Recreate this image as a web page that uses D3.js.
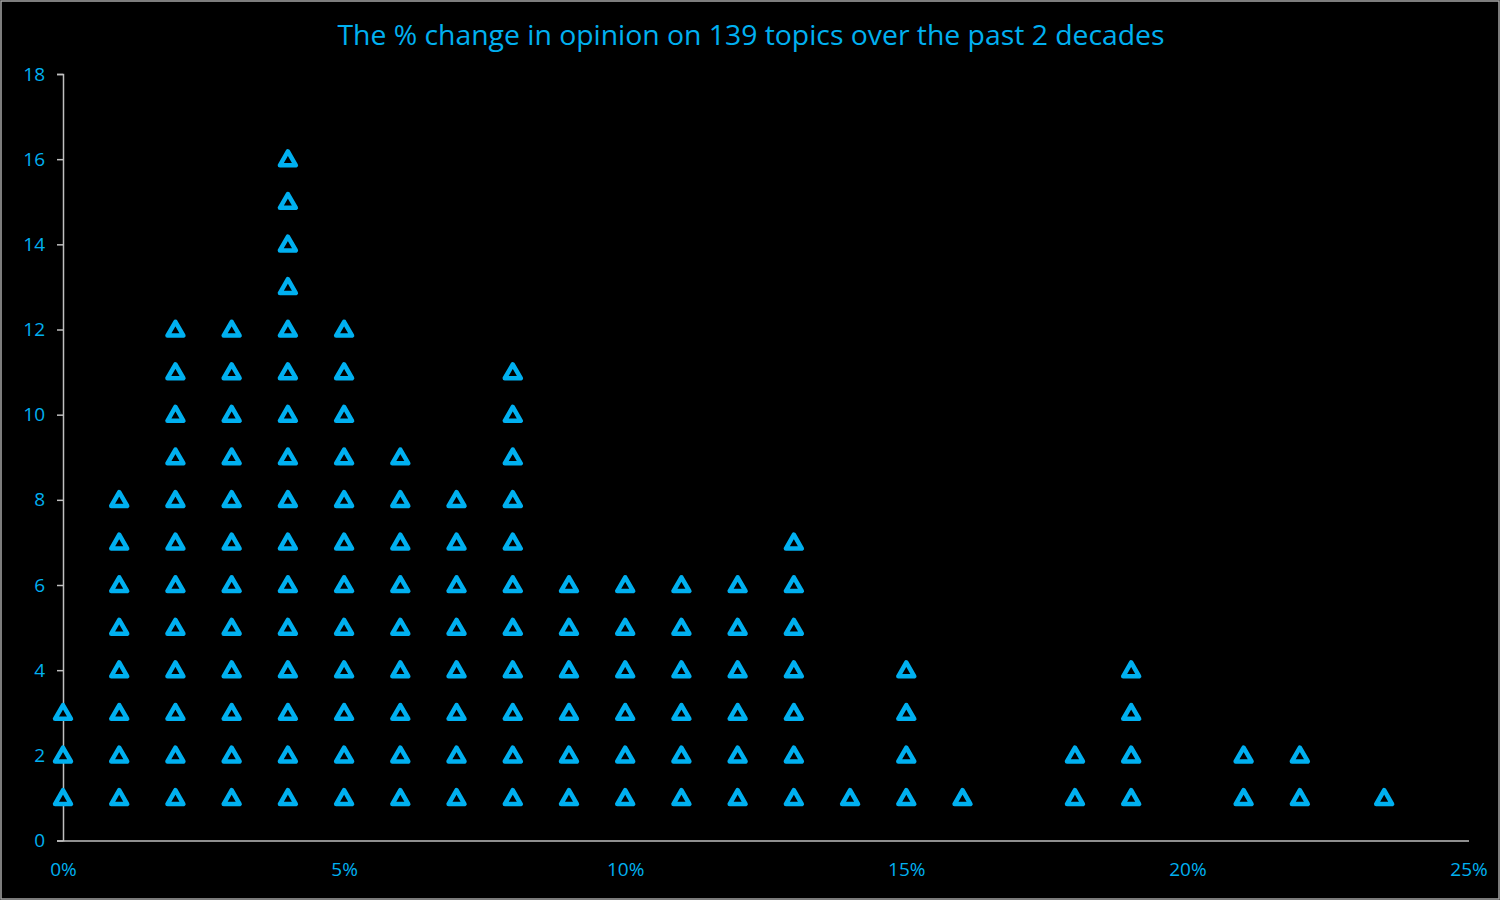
<!DOCTYPE html>
<html>
<head>
<meta charset="utf-8">
<script src="https://cdn.jsdelivr.net/npm/d3@7"></script>
<style>
  body { margin: 0; background: #000; }
  text { font-family: "Open Sans", "Noto Sans", sans-serif; }
</style>
</head>
<body>
<div id="chart"></div>
<script>
const WIDTH = 1500;
const HEIGHT = 900;
const MARGIN = { LEFT: 63, RIGHT: 32, TOP: 74, BOTTOM: 60 };
const INNER_W = WIDTH - MARGIN.LEFT - MARGIN.RIGHT;
const INNER_H = HEIGHT - MARGIN.TOP - MARGIN.BOTTOM;
const BLUE = "#00b0f0";

// opinion change (%) for each stack, and how many topics sit in it
const changes = [0, 1, 2, 3, 4, 5, 6, 7, 8, 9, 10, 11, 12, 13, 14, 15, 16, 18, 19, 21, 22, 23.5];
const counts = [3, 8, 12, 12, 16, 12, 9, 8, 11, 6, 6, 6, 6, 7, 1, 4, 1, 2, 4, 2, 2, 1];
const xTicks = [0, 5, 10, 15, 20, 25];
const yTicks = [0, 2, 4, 6, 8, 10, 12, 14, 16, 18];
const title = "The % change in opinion on 139 topics over the past 2 decades";

// one point per topic, stacked
const points = [];
changes.forEach((c, i) => {
  for (let k = 1; k <= counts[i]; k++) points.push({ x: c, y: k });
});

const svg = d3.select("#chart")
  .append("svg")
  .attr("width", WIDTH)
  .attr("height", HEIGHT);

svg.append("rect")
  .attr("width", WIDTH)
  .attr("height", HEIGHT)
  .attr("fill", "#000");

// outer frame
svg.append("rect")
  .attr("x", 1).attr("y", 1)
  .attr("width", WIDTH - 2).attr("height", HEIGHT - 2)
  .attr("fill", "none")
  .attr("stroke", "#a6a6a6")
  .attr("stroke-width", 1.5);

svg.append("text")
  .attr("x", 751)
  .attr("y", 45)
  .attr("text-anchor", "middle")
  .attr("fill", BLUE)
  .attr("font-size", "27px")
  .attr("textLength", 827)
  .attr("lengthAdjust", "spacingAndGlyphs")
  .text(title);

const g = svg.append("g")
  .attr("transform", `translate(${MARGIN.LEFT}, ${MARGIN.TOP})`);

const x = d3.scaleLinear().domain([0, 25]).range([0, INNER_W + 0.5]);
const y = d3.scaleLinear().domain([0, 18]).range([INNER_H + 0.5, 0]);

// y axis
const yAxis = g.append("g")
  .call(d3.axisLeft(y).tickValues(yTicks).tickSize(6).tickPadding(12));
// x axis
const xAxis = g.append("g")
  .attr("transform", `translate(0, ${INNER_H + 0.5})`)
  .call(d3.axisBottom(x).tickValues(xTicks).tickSize(0).tickPadding(22)
    .tickFormat((d) => d + "%"));

[xAxis, yAxis].forEach((a) => {
  a.select(".domain").attr("stroke", "#bfbfbf").attr("stroke-width", 1.5);
  a.selectAll(".tick line").attr("stroke", "#bfbfbf").attr("stroke-width", 1.5);
  a.selectAll(".tick text")
    .attr("fill", BLUE)
    .attr("font-size", "19px")
    .style("font-family", "'Open Sans', 'Noto Sans', sans-serif");
});

// triangle markers
const tri = d3.symbol().type(d3.symbolTriangle).size(110);
g.selectAll(".pt")
  .data(points)
  .enter()
  .append("path")
  .attr("class", "pt")
  .attr("transform", (d) => `translate(${x(d.x)}, ${y(d.y) + 1.5})`)
  .attr("d", tri)
  .attr("fill", "#000")
  .attr("stroke", BLUE)
  .attr("stroke-width", 4.5)
  .attr("stroke-linejoin", "round");
</script>
</body>
</html>
